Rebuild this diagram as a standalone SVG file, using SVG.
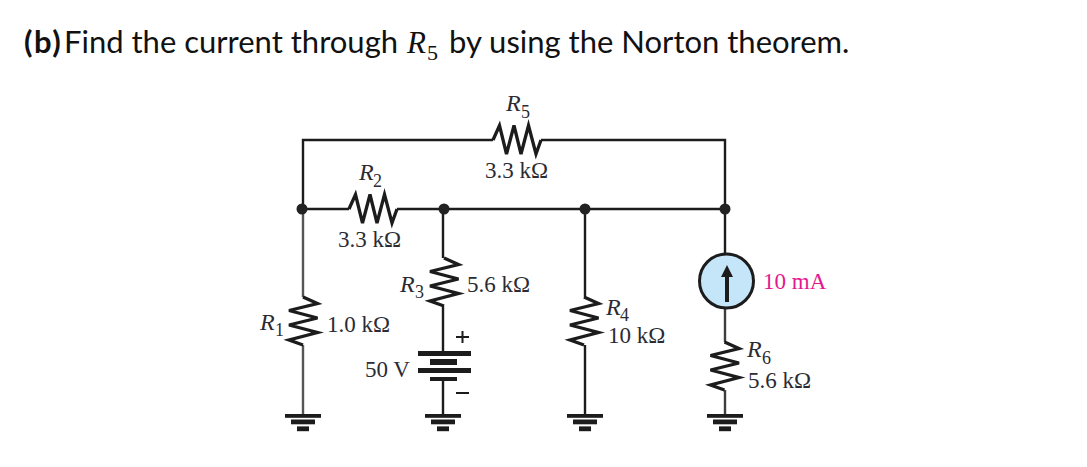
<svg xmlns="http://www.w3.org/2000/svg" width="1087" height="467" viewBox="0 0 1087 467">
<style>
.w{fill:none;stroke:#1c1c1c;stroke-width:2.4}
.r{fill:none;stroke:#1c1c1c;stroke-width:3.300;stroke-linejoin:miter}
.j{fill:#222}
.b{fill:#1c1c1c}
.t{font-family:"Liberation Serif",serif;font-size:23px;fill:#2b2b33}
.i{font-family:"Liberation Serif",serif;font-size:24px;font-style:italic;fill:#2b2b33}
.s{font-family:"Liberation Serif",serif;font-size:18px;fill:#2b2b33}
.h{font-family:Lato,sans-serif;font-size:31px;fill:#111}
</style>
<defs>
<path id="res" class="r" d="M0,0L14.500,6.500L-14,13.500L14.500,21L-14,28L14.500,35.500L-14,43L0,48"/>
<g id="gnd" class="b"><rect x="-18" y="0" width="36" height="3.800"/><rect x="-12" y="5.500" width="24" height="4.800"/><rect x="-6" y="12.400" width="12" height="4.800"/></g>
</defs>
<g id="title">
<text class="h" x="24" y="53" font-weight="700" letter-spacing="1.500">(b)</text>
<text class="h" x="64" y="53">Find the current through</text>
<text x="407" y="53" font-family="Liberation Serif,serif" font-style="italic" font-size="31" fill="#111">R</text>
<text x="427" y="60" font-family="Liberation Serif,serif" font-size="22" fill="#111">5</text>
<text class="h" x="449" y="53">by using the Norton theorem.</text>
</g>
<g id="connectors">
<path class="w" d="M303,209V140H493M541,140H725V253"/>
<path class="w" d="M302,209H349M397,209H725"/>
<path class="w" stroke-opacity=".75" d="M303,209V297M303,345V416"/>
<path class="w" d="M443,209V258M443,306V353M443,380V416"/>
<path class="w" d="M585,209V297M585,345V416"/>
<path class="w" stroke-opacity=".85" d="M725,309V342M725,390V416"/>
</g>
<g id="R5"><use href="#res" transform="translate(493,140) rotate(-90)"/><text class="i" x="506" y="111">R</text><text class="s" x="521" y="118">5</text><text class="t" x="485" y="178">3.3 kΩ</text></g>
<g id="R2"><use href="#res" transform="translate(349,209) rotate(-90)"/><text class="i" x="359" y="180">R</text><text class="s" x="373" y="187">2</text><text class="t" x="338" y="247">3.3 kΩ</text></g>
<g id="R1"><use href="#res" transform="translate(303,297)"/><text class="i" x="260" y="330">R</text><text class="s" x="275" y="336">1</text><text class="t" x="327" y="332">1.0 kΩ</text><use href="#gnd" transform="translate(303,414)"/></g>
<g id="R3"><use href="#res" transform="translate(444,258)"/><text class="i" x="400" y="292">R</text><text class="s" x="415" y="298">3</text><text class="t" x="467" y="292">5.6 kΩ</text></g>
<g id="battery" class="b">
<rect x="418" y="351" width="53" height="5"/><rect x="430" y="359" width="27" height="6"/><rect x="418" y="368" width="53" height="5"/><rect x="430" y="377" width="27" height="4"/>
<rect x="456" y="336" width="13" height="2"/><rect x="461.500" y="331" width="2" height="12"/><rect x="456" y="392" width="13" height="2"/>
<text class="t" x="365" y="377">50 V</text><use href="#gnd" transform="translate(443,414)"/></g>
<g id="R4"><use href="#res" transform="translate(584,297)"/><text class="i" x="606" y="315">R</text><text class="s" x="620" y="321">4</text><text class="t" x="608" y="343">10 kΩ</text><use href="#gnd" transform="translate(585,414)"/></g>
<g id="source"><circle cx="726.500" cy="281" r="27" fill="#c5e6f8" stroke="#1c1c1c" stroke-width="3"/><path class="b" d="M725,302V277H721L727,265L733,277H729V302Z"/><text class="t" x="763" y="289" style="fill:#e5178f">10 mA</text></g>
<g id="R6"><use href="#res" transform="translate(724.500,342)"/><text class="i" x="747" y="357">R</text><text class="s" x="762" y="364">6</text><text class="t" x="748" y="388">5.6 kΩ</text><use href="#gnd" transform="translate(725,414)"/></g>
<g id="junctions"><circle class="j" cx="302" cy="209" r="5.500"/><circle class="j" cx="444" cy="209" r="5.500"/><circle class="j" cx="585" cy="209" r="5.500"/><circle class="j" cx="725" cy="209" r="5.500"/></g>
</svg>
